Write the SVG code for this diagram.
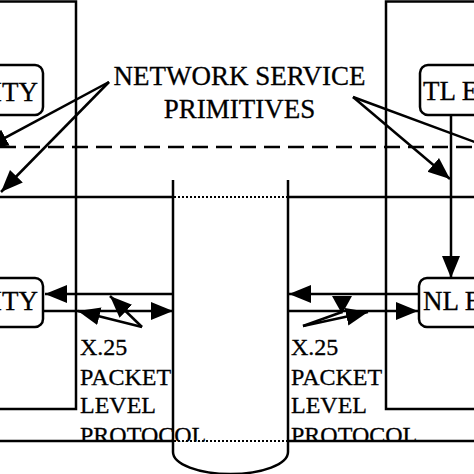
<svg xmlns="http://www.w3.org/2000/svg" width="474" height="474" viewBox="0 0 474 474">
<style>
.ln{fill:none;stroke:#000;stroke-width:2.5}
.dot{fill:none;stroke:#000;stroke-width:2;stroke-dasharray:2 2}
.dash{fill:none;stroke:#000;stroke-width:2.5;stroke-dasharray:16 8}
.box{fill:#fff;stroke:#000;stroke-width:2.5}
.t{font-family:"Liberation Serif","Times New Roman",serif;fill:#000;stroke:#000;stroke-width:0.3}
.big{font-size:27px}
.sm{font-size:24px}
.arr{fill:none;stroke:#000;stroke-width:2.5;marker-end:url(#ah)}
</style>
<defs>
<marker id="ah" markerUnits="userSpaceOnUse" markerWidth="22" markerHeight="20" refX="22" refY="9" orient="auto" viewBox="0 0 22 18">
<path d="M0,0 L22,9 L0,18 z" fill="#000"/>
</marker>
<clipPath id="clipP"><rect x="0" y="0" width="474" height="441.5"/></clipPath>
</defs>
<rect width="474" height="474" fill="#fff"/>

<g id="left-system">
<path class="ln" d="M-5,1.5 H76 V409 H-5"/>
</g>
<g id="right-system">
<path class="ln" d="M480,1.5 H386 V409 H480"/>
</g>

<g id="cylinder">
<path class="ln" d="M173,180 V452 A57.5,22 0 0 0 288,452 V180"/>
</g>

<g id="connectors">
<line class="dash" x1="0" y1="147" x2="474" y2="147"/>
<line class="ln" x1="0" y1="197" x2="173" y2="197"/>
<line class="dot" x1="174" y1="197" x2="287" y2="197"/>
<line class="ln" x1="288" y1="197" x2="474" y2="197"/>
<line class="ln" x1="0" y1="441" x2="173" y2="441"/>
<line class="dot" x1="174" y1="441" x2="287" y2="441"/>
<line class="ln" x1="288" y1="441" x2="474" y2="441"/>

<line class="arr" x1="109" y1="82" x2="-14" y2="148"/>
<line class="arr" x1="109" y1="82" x2="1" y2="192"/>
<line class="ln" x1="353" y1="97" x2="480" y2="144"/>
<line class="arr" x1="353" y1="97" x2="450" y2="179"/>

<line class="arr" x1="451" y1="115" x2="451" y2="278"/>

<line class="arr" x1="173" y1="294" x2="45" y2="294"/>
<line class="arr" x1="43" y1="311" x2="173" y2="311"/>
<line class="arr" x1="418" y1="294" x2="289" y2="294"/>
<line class="arr" x1="288" y1="311" x2="418" y2="311"/>

<line class="arr" x1="142" y1="327" x2="78" y2="311"/>
<line class="arr" x1="142" y1="327" x2="110" y2="296"/>
<line class="arr" x1="303" y1="326" x2="368" y2="312"/>
<line class="ln" x1="303" y1="326" x2="342" y2="312"/>
<polygon points="332,296 352,296 342,314" fill="#000"/>
</g>

<g id="tl-entity-left">
<rect class="box" x="-20" y="65" width="63" height="50" rx="8"/>
<text class="t big" x="38" y="101" text-anchor="end">ITY</text>
</g>
<g id="nl-entity-left">
<rect class="box" x="-20" y="278" width="63" height="49" rx="8"/>
<text class="t big" x="38" y="310" text-anchor="end">ITY</text>
</g>
<g id="tl-entity-right">
<rect class="box" x="420" y="65" width="80" height="50" rx="8"/>
<text class="t big" x="423" y="100">TL E</text>
</g>
<g id="nl-entity-right">
<rect class="box" x="419" y="278" width="80" height="49" rx="8"/>
<text class="t big" x="423" y="310">NL E</text>
</g>

<g id="nsp-label">
<text class="t big" x="239.5" y="85" text-anchor="middle">NETWORK SERVICE</text>
<text class="t big" x="239.5" y="118" text-anchor="middle">PRIMITIVES</text>
</g>

<g id="x25-left" clip-path="url(#clipP)">
<text class="t sm" x="80" y="355">X.25</text>
<text class="t sm" x="80" y="384.5">PACKET</text>
<text class="t sm" x="80" y="413">LEVEL</text>
<text class="t sm" x="80" y="443">PROTOCOL</text>
</g>
<g id="x25-right" clip-path="url(#clipP)">
<text class="t sm" x="291" y="355">X.25</text>
<text class="t sm" x="291" y="384.5">PACKET</text>
<text class="t sm" x="291" y="413">LEVEL</text>
<text class="t sm" x="291" y="443">PROTOCOL</text>
</g>
</svg>
